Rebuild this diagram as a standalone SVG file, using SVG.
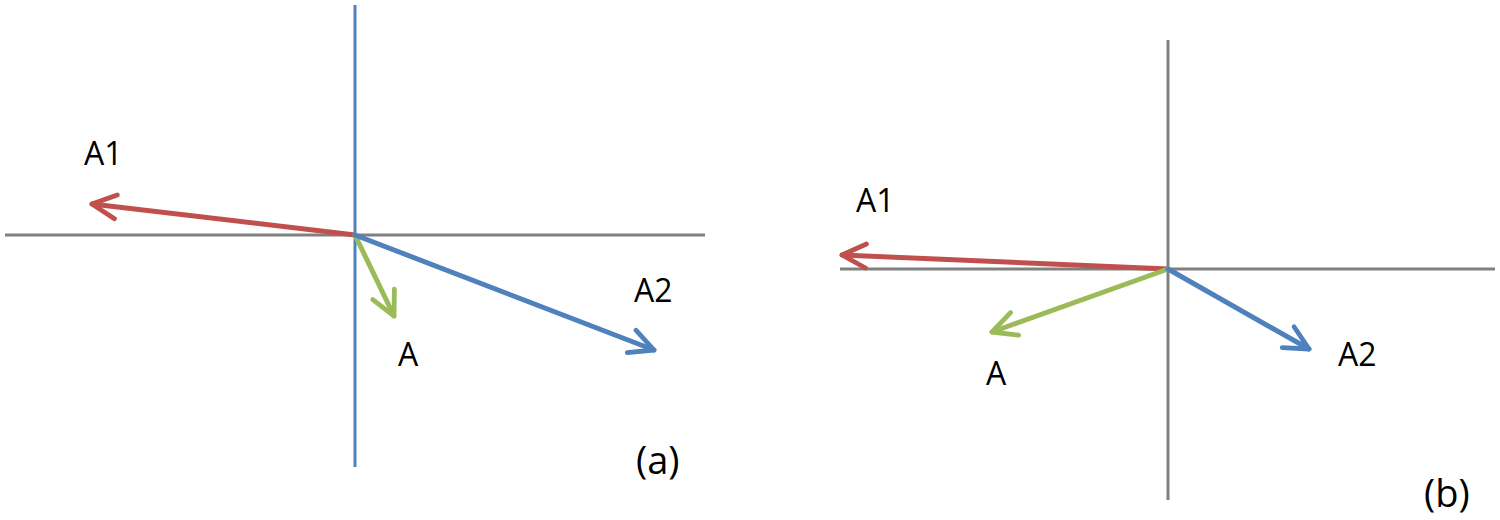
<svg xmlns="http://www.w3.org/2000/svg" width="1500" height="520" viewBox="0 0 1500 520">
<style>
.ax{stroke:#808080;stroke-width:3;fill:none}
.v{stroke-width:5;fill:none;stroke-linecap:round}
text{font-family:"Open Sans","Liberation Sans",sans-serif;font-size:32px;fill:#000}
.big{font-size:38px}
</style>
<defs>
<marker id="mr" viewBox="0 0 10 10" refX="9" refY="5" markerWidth="6" markerHeight="6" orient="auto" markerUnits="strokeWidth"><path d="M1,1 L9,5 L1,9" fill="none" stroke="#C0504D" stroke-width="1.6" stroke-linecap="round" stroke-linejoin="round"/></marker>
<marker id="mg" viewBox="0 0 10 10" refX="9" refY="5" markerWidth="6" markerHeight="6" orient="auto" markerUnits="strokeWidth"><path d="M1,1 L9,5 L1,9" fill="none" stroke="#9BBB59" stroke-width="1.6" stroke-linecap="round" stroke-linejoin="round"/></marker>
<marker id="mb" viewBox="0 0 10 10" refX="9" refY="5" markerWidth="6" markerHeight="6" orient="auto" markerUnits="strokeWidth"><path d="M1,1 L9,5 L1,9" fill="none" stroke="#4F81BD" stroke-width="1.6" stroke-linecap="round" stroke-linejoin="round"/></marker>
</defs>
<g id="axes">
<line class="ax" x1="5" y1="235" x2="705" y2="235"/>
<line x1="355" y1="5" x2="355" y2="467" stroke="#4F81BD" stroke-width="3"/>
<line class="ax" x1="840" y1="269" x2="1495" y2="269"/>
<line class="ax" x1="1168" y1="40" x2="1168" y2="500"/>
</g>
<g id="connectors">
<line class="v" stroke="#C0504D" x1="355" y1="235" x2="92" y2="204" marker-end="url(#mr)"/>
<line class="v" stroke="#9BBB59" x1="355" y1="235" x2="394" y2="316" marker-end="url(#mg)"/>
<line class="v" stroke="#4F81BD" x1="355" y1="235" x2="654" y2="350" marker-end="url(#mb)"/>
<line class="v" stroke="#C0504D" x1="1168" y1="269" x2="842" y2="255" marker-end="url(#mr)"/>
<line class="v" stroke="#9BBB59" x1="1168" y1="269" x2="992" y2="332" marker-end="url(#mg)"/>
<line class="v" stroke="#4F81BD" x1="1168" y1="269" x2="1309" y2="349" marker-end="url(#mb)"/>
</g>
<g id="labels">
<text x="84" y="165">A1</text>
<text x="398" y="366">A</text>
<text x="634" y="302">A2</text>
<text class="big" x="636" y="474">(a)</text>
<text x="856" y="212">A1</text>
<text x="986" y="385">A</text>
<text x="1338" y="366">A2</text>
<text class="big" x="1424" y="507">(b)</text>
</g>
</svg>
